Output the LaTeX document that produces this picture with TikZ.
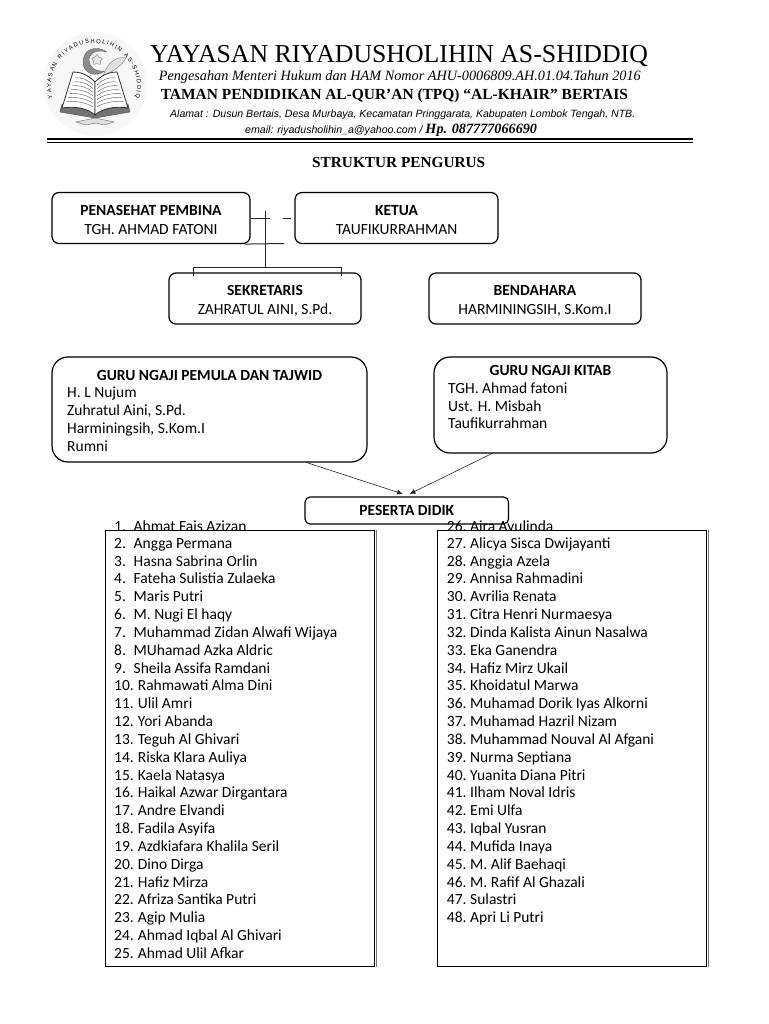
\documentclass[tikz,border=0pt]{standalone}
\usepackage{fontspec}
\setmainfont{Liberation Serif}
\newfontfamily\isi{Carlito}
\newfontfamily\arial{Liberation Sans}
\usetikzlibrary{arrows.meta,decorations.text,shapes.geometric}
\newcommand{\jabatan}[2]{\rule{0pt}{14.5pt}\textbf{#1}\\#2}
\tikzset{
  kotak/.style={draw=black,line width=1.2pt,rounded corners=7pt,fill=white,inner sep=0pt,align=center,font=\isi\fontsize{15.5}{18.5}\selectfont},
  duabaris/.style={kotak,minimum height=51pt},
  daftar/.style={anchor=base west,inner sep=0pt,font=\isi\fontsize{15.5}{16}\selectfont},
  bingkai/.style={draw=black,line width=1pt,fill=white,inner sep=0pt,minimum width=269.5pt,minimum height=435.5pt},
  bayang/.style={draw=black!55,line width=1pt},
  garis/.style={draw=black!85,line width=1pt},
  kepala/.style={anchor=west,inner sep=0pt}
}
\begin{document}
\begin{tikzpicture}[x=1pt,y=-1pt,>={Latex[length=6pt,width=5pt]}]
\useasboundingbox (0,0) rectangle (768,1024);
% logo
\draw[black!3,fill=black!3,line width=2pt] (95,84) circle[radius=51pt];
\draw[fill=black!45,draw=black!60,even odd rule] (107,52) .. controls (95,44) and (83,50) .. (83,62) .. controls (83,73) and (95,78) .. (105,71) .. controls (94,72) and (89,66) .. (89,60) .. controls (89,53) and (97,49) .. (107,52);
\node[star,star points=5,fill=black!10,draw=black!50,minimum size=11pt,inner sep=0pt] (bintang) at (97,60) {};
\draw[fill=black!12,draw=black!50] (103,76) .. controls (108,62) and (116,56) .. (126,58) .. controls (122,66) and (112,72) .. (103,76);
\draw[fill=black!55,draw=black!70] (60,112) -- (95,118) -- (130,112) -- (128,104) -- (95,112) -- (62,104) -- cycle;
\draw[fill=black!12,draw=black!60] (76,122) -- (95,118) -- (114,122) -- (104,125) -- (96,123) -- (86,125) -- cycle;
\draw[fill=white,draw=black!80,line width=.8pt] (95,82) .. controls (87,74) and (80,72) .. (73,72) -- (62,108) .. controls (75,106) and (87,108) .. (95,115) -- cycle;
\draw[fill=white,draw=black!80,line width=.8pt] (95,82) .. controls (103,74) and (110,72) .. (117,72) -- (128,108) .. controls (115,106) and (103,108) .. (95,115) -- cycle;
\foreach \t in {0,.14,...,.9}{
  \draw[black!55,line width=.5pt] (93-18+\t*-10,78+\t*28) .. controls (82+\t*-6,77+\t*28) and (88,80+\t*28) .. (93,85+\t*26);
  \draw[black!55,line width=.5pt] (97+18-\t*-10,78+\t*28) .. controls (108-\t*-6,77+\t*28) and (102,80+\t*28) .. (97,85+\t*26);
}
\path[decorate,decoration={text along path,text align=fit to path,text={|\arial\fontsize{5.8}{7}\selectfont|YAYASAN RIYADUSHOLIHIN AS-SHIDDIQ}}] (52.7,98) arc[start angle=196,end angle=-16,radius=43pt];
% kepala surat
\node[kepala,font=\fontsize{25.8}{27}\selectfont] (judul) at (150,56) {YAYASAN RIYADUSHOLIHIN AS-SHIDDIQ};
\node[kepala,font=\itshape\fontsize{14.25}{16}\selectfont] (sah) at (158.6,77) {Pengesahan Menteri Hukum dan HAM Nomor AHU-0006809.AH.01.04.Tahun 2016};
\node[kepala,font=\fontsize{15.45}{16}\selectfont\bfseries] (tpq) at (160.6,96) {TAMAN PENDIDIKAN AL-QUR’AN (TPQ) “AL-KHAIR” BERTAIS};
\node[kepala,font=\arial\itshape\fontsize{10.55}{12}\selectfont] (alamat) at (170,115) {Alamat : Dusun Bertais, Desa Murbaya, Kecamatan Pringgarata, Kabupaten Lombok Tengah, NTB.};
\node[kepala,font=\arial\itshape\fontsize{10.6}{12}\selectfont] (surel) at (245,130) {email: riyadusholihin\_a@yahoo.com / {\rmfamily\bfseries\fontsize{14.2}{12}\selectfont Hp. 087777066690}};
\draw[line width=2pt] (47,139.3) -- (693,139.3); \draw[line width=.9pt] (47,142.8) -- (693,142.8);
\node[kepala,font=\bfseries\fontsize{15.3}{16}\selectfont] (struktur) at (312,163) {STRUKTUR PENGURUS};
% pengurus
\node[duabaris,minimum width=198pt] (penasehat) at (151,218) {\jabatan{PENASEHAT PEMBINA}{TGH. AHMAD FATONI}};
\node[duabaris,minimum width=203pt] (ketua) at (396.5,218) {\jabatan{KETUA}{TAUFIKURRAHMAN}};
\node[duabaris,minimum width=192pt] (sekretaris) at (265,298.5) {\jabatan{SEKRETARIS}{ZAHRATUL AINI, S.Pd.}};
\node[duabaris,minimum width=212pt] (bendahara) at (535,298.5) {\jabatan{BENDAHARA}{HARMININGSIH, S.Kom.I}};
\coordinate (atas) at (265,211); \coordinate (cabang) at (265,267); \coordinate (ujungbawah) at (284,243.5);
\coordinate (kiribawah) at (193,276); \coordinate (kananbawah) at (341,276);
\draw[garis,dash pattern=on 19pt off 13pt on 8pt off 20pt] ([yshift=-1pt]penasehat.east) -- ([yshift=-1pt]ketua.west);
\draw[garis] (atas) -- (cabang);
\draw[garis] (penasehat.south east) ++(-6,0) -- (ujungbawah);
\draw[garis] (kiribawah) -- (kiribawah |- cabang) -- (kananbawah |- cabang) -- (kananbawah);
% guru
\node[kotak,minimum width=315pt,minimum height=105pt,rounded corners=16pt] (pemula) at (209.5,409.5) {};
\node[kotak,minimum width=233pt,minimum height=96pt,rounded corners=16pt] (kitab) at (550.5,405) {};
\node[inner sep=0pt,font=\isi\bfseries\fontsize{15.5}{16}\selectfont] (judulpemula) at (209.5,375) {GURU NGAJI PEMULA DAN TAJWID};
\node[inner sep=0pt,font=\isi\bfseries\fontsize{15.5}{16}\selectfont] (judulkitab) at (550.5,370) {GURU NGAJI KITAB};
\node[inner sep=0pt,anchor=north west,align=left,font=\isi\fontsize{15.5}{18}\selectfont] (isipemula) at (67,387) {H. L Nujum\\Zuhratul Aini, S.Pd.\\Harminingsih, S.Kom.I\\Rumni};
\node[inner sep=0pt,anchor=north west,align=left,font=\isi\fontsize{15.5}{17.5}\selectfont] (isikitab) at (448,383) {TGH. Ahmad fatoni\\Ust. H. Misbah\\Taufikurrahman};
\node[kotak,minimum width=203.5pt,minimum height=27pt,rounded corners=5pt] (peserta) at (406.8,510.5) {\textbf{PESERTA DIDIK}};
\coordinate (keluarpemula) at (305,462); \coordinate (keluarkitab) at (493,453);
\coordinate (masuka) at (403,494); \coordinate (masukb) at (409.5,494);
\draw[->,garis,line width=.6pt] (keluarpemula) -- (masuka);
\draw[->,garis,line width=.6pt] (keluarkitab) -- (masukb);
% peserta didik
\node[daftar] (nama1) at (114,531.5) {\makebox[19.5pt][l]{1.}Ahmat Fais Azizan};
\node[daftar] (nama26) at (446.7,531.5) {\makebox[23.3pt][l]{26.}Aira Ayulinda};
\node[bingkai] (kiri) at (239.9,748.3) {};
\node[bingkai] (kanan) at (572,748.3) {};
\draw[bayang] ([xshift=1.2pt]kiri.north east) -- ([xshift=1.2pt]kiri.south east);
\draw[bayang] ([xshift=1.2pt]kanan.north east) -- ([xshift=1.2pt]kanan.south east);
\foreach \no/\nama in {2/Angga Permana,3/Hasna Sabrina Orlin,4/Fateha Sulistia Zulaeka,5/Maris Putri,6/M. Nugi El haqy,7/Muhammad Zidan Alwafi Wijaya,8/MUhamad Azka Aldric,9/Sheila Assifa Ramdani}
  \node[daftar] (nama\no) at (114,548.3+17.83*\no-35.66) {\makebox[19.5pt][l]{\no.}\nama};
\foreach \no/\nama in {10/Rahmawati Alma Dini,11/Ulil Amri,12/Yori Abanda,13/Teguh Al Ghivari,14/Riska Klara Auliya,15/Kaela Natasya,16/Haikal Azwar Dirgantara,17/Andre Elvandi,18/Fadila Asyifa,19/Azdkiafara Khalila Seril,20/Dino Dirga,21/Hafiz Mirza,22/Afriza Santika Putri,23/Agip Mulia,24/Ahmad Iqbal Al Ghivari,25/Ahmad Ulil Afkar}
  \node[daftar] (nama\no) at (114,548.3+17.83*\no-35.66) {\makebox[23.7pt][l]{\no.}\nama};
\foreach \no/\nama in {27/Alicya Sisca Dwijayanti,28/Anggia Azela,29/Annisa Rahmadini,30/Avrilia Renata,31/Citra Henri Nurmaesya,32/Dinda Kalista Ainun Nasalwa,33/Eka Ganendra,34/Hafiz Mirz Ukail,35/Khoidatul Marwa,36/Muhamad Dorik Iyas Alkorni,37/Muhamad Hazril Nizam,38/Muhammad Nouval Al Afgani,39/Nurma Septiana,40/Yuanita Diana Pitri,41/Ilham Noval Idris,42/Emi Ulfa,43/Iqbal Yusran,44/Mufida Inaya,45/M. Alif Baehaqi,46/M. Rafif Al Ghazali,47/Sulastri,48/Apri Li Putri}
  \node[daftar] (nama\no) at (446.7,548.3+17.83*\no-481.41) {\makebox[23.3pt][l]{\no.}\nama};
\end{tikzpicture}
\end{document}
